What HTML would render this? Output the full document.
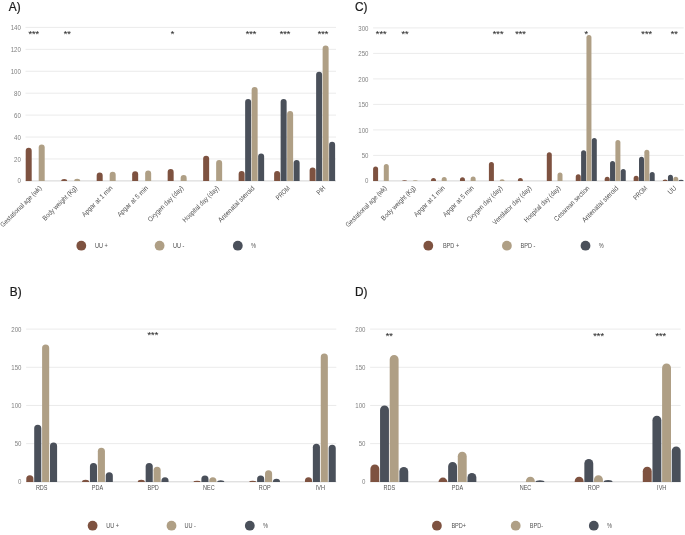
<!DOCTYPE html>
<html><head><meta charset="utf-8"><title>Figure</title>
<style>
html,body{margin:0;padding:0;background:#fff;}
svg{display:block;font-family:"Liberation Sans","DejaVu Sans",sans-serif;}
</style></head>
<body>
<svg width="685" height="535" viewBox="0 0 685 535">
<rect width="685" height="535" fill="#fff"/>
<text transform="translate(8.80 11.10) scale(0.91 1)" font-size="13" fill="#1c1c1c" text-anchor="start" stroke="#1c1c1c" stroke-width="0.25">A)</text>
<rect x="25.5" y="180.40" width="310.50" height="1" fill="#d4d4d4"/>
<text transform="translate(20.90 183.20) scale(0.9 1)" font-size="6.8" fill="#808080" text-anchor="end">0</text>
<rect x="25.5" y="158.47" width="310.50" height="1" fill="#ebebeb"/>
<text transform="translate(20.90 161.72) scale(0.9 1)" font-size="6.8" fill="#808080" text-anchor="end">20</text>
<rect x="25.5" y="136.54" width="310.50" height="1" fill="#ebebeb"/>
<text transform="translate(20.90 139.79) scale(0.9 1)" font-size="6.8" fill="#808080" text-anchor="end">40</text>
<rect x="25.5" y="114.61" width="310.50" height="1" fill="#ebebeb"/>
<text transform="translate(20.90 117.86) scale(0.9 1)" font-size="6.8" fill="#808080" text-anchor="end">60</text>
<rect x="25.5" y="92.69" width="310.50" height="1" fill="#ebebeb"/>
<text transform="translate(20.90 95.94) scale(0.9 1)" font-size="6.8" fill="#808080" text-anchor="end">80</text>
<rect x="25.5" y="70.76" width="310.50" height="1" fill="#ebebeb"/>
<text transform="translate(20.90 74.01) scale(0.9 1)" font-size="6.8" fill="#808080" text-anchor="end">100</text>
<rect x="25.5" y="48.83" width="310.50" height="1" fill="#ebebeb"/>
<text transform="translate(20.90 52.08) scale(0.9 1)" font-size="6.8" fill="#808080" text-anchor="end">120</text>
<rect x="25.5" y="26.90" width="310.50" height="1" fill="#ebebeb"/>
<text transform="translate(20.90 30.15) scale(0.9 1)" font-size="6.8" fill="#808080" text-anchor="end">140</text>
<path d="M25.70 181.10V150.80A3.00 3.00 0 0 1 31.70 150.80V181.10Z" fill="#7e5240"/>
<path d="M38.70 181.10V147.50A3.00 3.00 0 0 1 44.70 147.50V181.10Z" fill="#af9f85"/>
<path d="M61.19 181.10V181.10A3.00 2.20 0 0 1 67.19 181.10V181.10Z" fill="#7e5240"/>
<path d="M74.19 181.10V181.10A3.00 2.40 0 0 1 80.19 181.10V181.10Z" fill="#af9f85"/>
<path d="M96.68 181.10V175.40A3.00 3.00 0 0 1 102.68 175.40V181.10Z" fill="#7e5240"/>
<path d="M109.68 181.10V174.70A3.00 3.00 0 0 1 115.68 174.70V181.10Z" fill="#af9f85"/>
<path d="M132.17 181.10V174.20A3.00 3.00 0 0 1 138.17 174.20V181.10Z" fill="#7e5240"/>
<path d="M145.17 181.10V173.60A3.00 3.00 0 0 1 151.17 173.60V181.10Z" fill="#af9f85"/>
<path d="M167.66 181.10V171.90A3.00 3.00 0 0 1 173.66 171.90V181.10Z" fill="#7e5240"/>
<path d="M180.66 181.10V177.90A3.00 3.00 0 0 1 186.66 177.90V181.10Z" fill="#af9f85"/>
<path d="M203.15 181.10V158.80A3.00 3.00 0 0 1 209.15 158.80V181.10Z" fill="#7e5240"/>
<path d="M216.15 181.10V162.90A3.00 3.00 0 0 1 222.15 162.90V181.10Z" fill="#af9f85"/>
<path d="M238.64 181.10V174.10A3.00 3.00 0 0 1 244.64 174.10V181.10Z" fill="#7e5240"/>
<path d="M245.14 181.10V102.10A3.00 3.00 0 0 1 251.14 102.10V181.10Z" fill="#4a505a"/>
<path d="M251.64 181.10V90.10A3.00 3.00 0 0 1 257.64 90.10V181.10Z" fill="#af9f85"/>
<path d="M258.14 181.10V156.60A3.00 3.00 0 0 1 264.14 156.60V181.10Z" fill="#4a505a"/>
<path d="M274.13 181.10V174.10A3.00 3.00 0 0 1 280.13 174.10V181.10Z" fill="#7e5240"/>
<path d="M280.63 181.10V102.10A3.00 3.00 0 0 1 286.63 102.10V181.10Z" fill="#4a505a"/>
<path d="M287.13 181.10V113.90A3.00 3.00 0 0 1 293.13 113.90V181.10Z" fill="#af9f85"/>
<path d="M293.63 181.10V163.10A3.00 3.00 0 0 1 299.63 163.10V181.10Z" fill="#4a505a"/>
<path d="M309.62 181.10V170.60A3.00 3.00 0 0 1 315.62 170.60V181.10Z" fill="#7e5240"/>
<path d="M316.12 181.10V74.80A3.00 3.00 0 0 1 322.12 74.80V181.10Z" fill="#4a505a"/>
<path d="M322.62 181.10V48.40A3.00 3.00 0 0 1 328.62 48.40V181.10Z" fill="#af9f85"/>
<path d="M329.12 181.10V144.80A3.00 3.00 0 0 1 335.12 144.80V181.10Z" fill="#4a505a"/>
<text transform="translate(42.05 188.60) rotate(-45) scale(0.86 1)" font-size="7" fill="#505050" text-anchor="end">Gestational age (wk)</text>
<text transform="translate(77.54 188.60) rotate(-45) scale(0.86 1)" font-size="7" fill="#505050" text-anchor="end">Body weight (Kg)</text>
<text transform="translate(113.03 188.60) rotate(-45) scale(0.89 1)" font-size="7" fill="#505050" text-anchor="end">Apgar at 1 min</text>
<text transform="translate(148.52 188.60) rotate(-45) scale(0.89 1)" font-size="7" fill="#505050" text-anchor="end">Apgar at 5 min</text>
<text transform="translate(184.01 188.60) rotate(-45) scale(0.86 1)" font-size="7" fill="#505050" text-anchor="end">Oxygen day (day)</text>
<text transform="translate(219.50 188.60) rotate(-45) scale(0.86 1)" font-size="7" fill="#505050" text-anchor="end">Hospital day (day)</text>
<text transform="translate(254.99 188.60) rotate(-45) scale(0.92 1)" font-size="7" fill="#505050" text-anchor="end">Antenatal steroid</text>
<text transform="translate(290.48 188.60) rotate(-45) scale(0.8 1)" font-size="7" fill="#505050" text-anchor="end">PROM</text>
<text transform="translate(325.97 188.60) rotate(-45) scale(0.8 1)" font-size="7" fill="#505050" text-anchor="end">PIH</text>
<text transform="translate(33.80 37.30) scale(1.02 1)" font-size="9" fill="#333" text-anchor="middle" stroke="#333" stroke-width="0.1">***</text>
<text transform="translate(67.30 37.30) scale(1.02 1)" font-size="9" fill="#333" text-anchor="middle" stroke="#333" stroke-width="0.1">**</text>
<text transform="translate(172.60 37.30) scale(1.02 1)" font-size="9" fill="#333" text-anchor="middle" stroke="#333" stroke-width="0.1">*</text>
<text transform="translate(251.00 37.30) scale(1.02 1)" font-size="9" fill="#333" text-anchor="middle" stroke="#333" stroke-width="0.1">***</text>
<text transform="translate(285.00 37.30) scale(1.02 1)" font-size="9" fill="#333" text-anchor="middle" stroke="#333" stroke-width="0.1">***</text>
<text transform="translate(323.00 37.30) scale(1.02 1)" font-size="9" fill="#333" text-anchor="middle" stroke="#333" stroke-width="0.1">***</text>
<circle cx="81.3" cy="245.7" r="4.9" fill="#7e5240"/>
<text transform="translate(94.90 248.10) scale(0.82 1)" font-size="6.8" fill="#505050" text-anchor="start">UU +</text>
<circle cx="159.6" cy="245.7" r="4.9" fill="#af9f85"/>
<text transform="translate(173.00 248.10) scale(0.82 1)" font-size="6.8" fill="#505050" text-anchor="start">UU -</text>
<circle cx="237.8" cy="245.7" r="4.9" fill="#4a505a"/>
<text transform="translate(251.00 248.10) scale(0.82 1)" font-size="6.8" fill="#505050" text-anchor="start">%</text>
<text transform="translate(9.80 296.10) scale(0.91 1)" font-size="13" fill="#1c1c1c" text-anchor="start" stroke="#1c1c1c" stroke-width="0.25">B)</text>
<rect x="26.1" y="481.30" width="310.20" height="1" fill="#d4d4d4"/>
<text transform="translate(21.50 484.10) scale(0.9 1)" font-size="6.8" fill="#808080" text-anchor="end">0</text>
<rect x="26.1" y="443.12" width="310.20" height="1" fill="#ebebeb"/>
<text transform="translate(21.50 446.38) scale(0.9 1)" font-size="6.8" fill="#808080" text-anchor="end">50</text>
<rect x="26.1" y="404.95" width="310.20" height="1" fill="#ebebeb"/>
<text transform="translate(21.50 408.20) scale(0.9 1)" font-size="6.8" fill="#808080" text-anchor="end">100</text>
<rect x="26.1" y="366.78" width="310.20" height="1" fill="#ebebeb"/>
<text transform="translate(21.50 370.03) scale(0.9 1)" font-size="6.8" fill="#808080" text-anchor="end">150</text>
<rect x="26.1" y="328.60" width="310.20" height="1" fill="#ebebeb"/>
<text transform="translate(21.50 331.85) scale(0.9 1)" font-size="6.8" fill="#808080" text-anchor="end">200</text>
<path d="M26.30 482.00V478.85A3.55 3.55 0 0 1 33.40 478.85V482.00Z" fill="#7e5240"/>
<path d="M34.20 482.00V428.35A3.55 3.55 0 0 1 41.30 428.35V482.00Z" fill="#4a505a"/>
<path d="M42.10 482.00V347.95A3.55 3.55 0 0 1 49.20 347.95V482.00Z" fill="#af9f85"/>
<path d="M50.00 482.00V445.95A3.55 3.55 0 0 1 57.10 445.95V482.00Z" fill="#4a505a"/>
<path d="M82.03 482.00V482.00A3.55 2.20 0 0 1 89.13 482.00V482.00Z" fill="#7e5240"/>
<path d="M89.93 482.00V466.55A3.55 3.55 0 0 1 97.03 466.55V482.00Z" fill="#4a505a"/>
<path d="M97.83 482.00V451.25A3.55 3.55 0 0 1 104.93 451.25V482.00Z" fill="#af9f85"/>
<path d="M105.73 482.00V475.85A3.55 3.55 0 0 1 112.83 475.85V482.00Z" fill="#4a505a"/>
<path d="M137.76 482.00V482.00A3.55 2.20 0 0 1 144.86 482.00V482.00Z" fill="#7e5240"/>
<path d="M145.66 482.00V466.55A3.55 3.55 0 0 1 152.76 466.55V482.00Z" fill="#4a505a"/>
<path d="M153.56 482.00V470.35A3.55 3.55 0 0 1 160.66 470.35V482.00Z" fill="#af9f85"/>
<path d="M161.46 482.00V480.85A3.55 3.55 0 0 1 168.56 480.85V482.00Z" fill="#4a505a"/>
<path d="M193.49 482.00V482.00A3.55 1.20 0 0 1 200.59 482.00V482.00Z" fill="#7e5240"/>
<path d="M201.39 482.00V479.05A3.55 3.55 0 0 1 208.49 479.05V482.00Z" fill="#4a505a"/>
<path d="M209.29 482.00V480.85A3.55 3.55 0 0 1 216.39 480.85V482.00Z" fill="#af9f85"/>
<path d="M217.19 482.00V482.00A3.55 1.70 0 0 1 224.29 482.00V482.00Z" fill="#4a505a"/>
<path d="M249.22 482.00V482.00A3.55 1.20 0 0 1 256.32 482.00V482.00Z" fill="#7e5240"/>
<path d="M257.12 482.00V479.05A3.55 3.55 0 0 1 264.22 479.05V482.00Z" fill="#4a505a"/>
<path d="M265.02 482.00V473.85A3.55 3.55 0 0 1 272.12 473.85V482.00Z" fill="#af9f85"/>
<path d="M272.92 482.00V482.00A3.55 3.20 0 0 1 280.02 482.00V482.00Z" fill="#4a505a"/>
<path d="M304.95 482.00V480.85A3.55 3.55 0 0 1 312.05 480.85V482.00Z" fill="#7e5240"/>
<path d="M312.85 482.00V447.25A3.55 3.55 0 0 1 319.95 447.25V482.00Z" fill="#4a505a"/>
<path d="M320.75 482.00V357.15A3.55 3.55 0 0 1 327.85 357.15V482.00Z" fill="#af9f85"/>
<path d="M328.65 482.00V448.25A3.55 3.55 0 0 1 335.75 448.25V482.00Z" fill="#4a505a"/>
<text transform="translate(41.70 489.80) scale(0.8 1)" font-size="6.9" fill="#505050" text-anchor="middle">RDS</text>
<text transform="translate(97.43 489.80) scale(0.8 1)" font-size="6.9" fill="#505050" text-anchor="middle">PDA</text>
<text transform="translate(153.16 489.80) scale(0.8 1)" font-size="6.9" fill="#505050" text-anchor="middle">BPD</text>
<text transform="translate(208.89 489.80) scale(0.8 1)" font-size="6.9" fill="#505050" text-anchor="middle">NEC</text>
<text transform="translate(264.62 489.80) scale(0.8 1)" font-size="6.9" fill="#505050" text-anchor="middle">ROP</text>
<text transform="translate(320.35 489.80) scale(0.8 1)" font-size="6.9" fill="#505050" text-anchor="middle">IVH</text>
<text transform="translate(152.90 337.80) scale(1.02 1)" font-size="9" fill="#333" text-anchor="middle" stroke="#333" stroke-width="0.1">***</text>
<circle cx="92.6" cy="525.7" r="4.9" fill="#7e5240"/>
<text transform="translate(106.20 528.10) scale(0.82 1)" font-size="6.8" fill="#505050" text-anchor="start">UU +</text>
<circle cx="171.5" cy="525.7" r="4.9" fill="#af9f85"/>
<text transform="translate(184.50 528.10) scale(0.82 1)" font-size="6.8" fill="#505050" text-anchor="start">UU -</text>
<circle cx="249.8" cy="525.7" r="4.9" fill="#4a505a"/>
<text transform="translate(262.90 528.10) scale(0.82 1)" font-size="6.8" fill="#505050" text-anchor="start">%</text>
<text transform="translate(355.00 11.10) scale(0.91 1)" font-size="13" fill="#1c1c1c" text-anchor="start" stroke="#1c1c1c" stroke-width="0.25">C)</text>
<rect x="373.1" y="180.40" width="310.60" height="1" fill="#d4d4d4"/>
<text transform="translate(368.50 183.20) scale(0.9 1)" font-size="6.8" fill="#808080" text-anchor="end">0</text>
<rect x="373.1" y="154.90" width="310.60" height="1" fill="#ebebeb"/>
<text transform="translate(368.50 158.15) scale(0.9 1)" font-size="6.8" fill="#808080" text-anchor="end">50</text>
<rect x="373.1" y="129.40" width="310.60" height="1" fill="#ebebeb"/>
<text transform="translate(368.50 132.65) scale(0.9 1)" font-size="6.8" fill="#808080" text-anchor="end">100</text>
<rect x="373.1" y="103.90" width="310.60" height="1" fill="#ebebeb"/>
<text transform="translate(368.50 107.15) scale(0.9 1)" font-size="6.8" fill="#808080" text-anchor="end">150</text>
<rect x="373.1" y="78.40" width="310.60" height="1" fill="#ebebeb"/>
<text transform="translate(368.50 81.65) scale(0.9 1)" font-size="6.8" fill="#808080" text-anchor="end">200</text>
<rect x="373.1" y="52.90" width="310.60" height="1" fill="#ebebeb"/>
<text transform="translate(368.50 56.15) scale(0.9 1)" font-size="6.8" fill="#808080" text-anchor="end">250</text>
<rect x="373.1" y="27.40" width="310.60" height="1" fill="#ebebeb"/>
<text transform="translate(368.50 30.65) scale(0.9 1)" font-size="6.8" fill="#808080" text-anchor="end">300</text>
<path d="M373.10 181.10V169.10A2.50 2.50 0 0 1 378.10 169.10V181.10Z" fill="#7e5240"/>
<path d="M383.80 181.10V166.60A2.50 2.50 0 0 1 388.80 166.60V181.10Z" fill="#af9f85"/>
<path d="M402.05 181.10V181.10A2.50 0.90 0 0 1 407.05 181.10V181.10Z" fill="#7e5240"/>
<path d="M412.75 181.10V181.10A2.50 0.90 0 0 1 417.75 181.10V181.10Z" fill="#af9f85"/>
<path d="M431.00 181.10V180.40A2.50 2.50 0 0 1 436.00 180.40V181.10Z" fill="#7e5240"/>
<path d="M441.70 181.10V179.40A2.50 2.50 0 0 1 446.70 179.40V181.10Z" fill="#af9f85"/>
<path d="M459.95 181.10V179.70A2.50 2.50 0 0 1 464.95 179.70V181.10Z" fill="#7e5240"/>
<path d="M470.65 181.10V178.90A2.50 2.50 0 0 1 475.65 178.90V181.10Z" fill="#af9f85"/>
<path d="M488.90 181.10V164.40A2.50 2.50 0 0 1 493.90 164.40V181.10Z" fill="#7e5240"/>
<path d="M499.60 181.10V181.10A2.50 1.90 0 0 1 504.60 181.10V181.10Z" fill="#af9f85"/>
<path d="M517.85 181.10V180.40A2.50 2.50 0 0 1 522.85 180.40V181.10Z" fill="#7e5240"/>
<path d="M546.80 181.10V154.80A2.50 2.50 0 0 1 551.80 154.80V181.10Z" fill="#7e5240"/>
<path d="M557.50 181.10V174.90A2.50 2.50 0 0 1 562.50 174.90V181.10Z" fill="#af9f85"/>
<path d="M575.75 181.10V176.70A2.50 2.50 0 0 1 580.75 176.70V181.10Z" fill="#7e5240"/>
<path d="M581.10 181.10V152.80A2.50 2.50 0 0 1 586.10 152.80V181.10Z" fill="#4a505a"/>
<path d="M586.45 181.10V37.60A2.50 2.50 0 0 1 591.45 37.60V181.10Z" fill="#af9f85"/>
<path d="M591.80 181.10V140.50A2.50 2.50 0 0 1 596.80 140.50V181.10Z" fill="#4a505a"/>
<path d="M604.70 181.10V179.20A2.50 2.50 0 0 1 609.70 179.20V181.10Z" fill="#7e5240"/>
<path d="M610.05 181.10V163.60A2.50 2.50 0 0 1 615.05 163.60V181.10Z" fill="#4a505a"/>
<path d="M615.40 181.10V142.50A2.50 2.50 0 0 1 620.40 142.50V181.10Z" fill="#af9f85"/>
<path d="M620.75 181.10V171.60A2.50 2.50 0 0 1 625.75 171.60V181.10Z" fill="#4a505a"/>
<path d="M633.65 181.10V178.20A2.50 2.50 0 0 1 638.65 178.20V181.10Z" fill="#7e5240"/>
<path d="M639.00 181.10V159.30A2.50 2.50 0 0 1 644.00 159.30V181.10Z" fill="#4a505a"/>
<path d="M644.35 181.10V152.30A2.50 2.50 0 0 1 649.35 152.30V181.10Z" fill="#af9f85"/>
<path d="M649.70 181.10V174.40A2.50 2.50 0 0 1 654.70 174.40V181.10Z" fill="#4a505a"/>
<path d="M662.60 181.10V181.10A2.50 1.70 0 0 1 667.60 181.10V181.10Z" fill="#7e5240"/>
<path d="M667.95 181.10V177.20A2.50 2.50 0 0 1 672.95 177.20V181.10Z" fill="#4a505a"/>
<path d="M673.30 181.10V179.20A2.50 2.50 0 0 1 678.30 179.20V181.10Z" fill="#af9f85"/>
<path d="M678.65 181.10V181.10A2.50 1.40 0 0 1 683.65 181.10V181.10Z" fill="#4a505a"/>
<text transform="translate(387.23 188.60) rotate(-45) scale(0.86 1)" font-size="7" fill="#505050" text-anchor="end">Gestational age (wk)</text>
<text transform="translate(416.18 188.60) rotate(-45) scale(0.86 1)" font-size="7" fill="#505050" text-anchor="end">Body weight (Kg)</text>
<text transform="translate(445.12 188.60) rotate(-45) scale(0.89 1)" font-size="7" fill="#505050" text-anchor="end">Apgar at 1 min</text>
<text transform="translate(474.08 188.60) rotate(-45) scale(0.89 1)" font-size="7" fill="#505050" text-anchor="end">Apgar at 5 min</text>
<text transform="translate(503.03 188.60) rotate(-45) scale(0.86 1)" font-size="7" fill="#505050" text-anchor="end">Oxygen day (day)</text>
<text transform="translate(531.98 188.60) rotate(-45) scale(0.86 1)" font-size="7" fill="#505050" text-anchor="end">Ventilator day (day)</text>
<text transform="translate(560.92 188.60) rotate(-45) scale(0.86 1)" font-size="7" fill="#505050" text-anchor="end">Hospital day (day)</text>
<text transform="translate(589.88 188.60) rotate(-45) scale(0.86 1)" font-size="7" fill="#505050" text-anchor="end">Cesarean section</text>
<text transform="translate(618.83 188.60) rotate(-45) scale(0.92 1)" font-size="7" fill="#505050" text-anchor="end">Antenatal steroid</text>
<text transform="translate(647.78 188.60) rotate(-45) scale(0.8 1)" font-size="7" fill="#505050" text-anchor="end">PROM</text>
<text transform="translate(676.73 188.60) rotate(-45) scale(0.86 1)" font-size="7" fill="#505050" text-anchor="end">UU</text>
<text transform="translate(381.20 37.30) scale(1.02 1)" font-size="9" fill="#333" text-anchor="middle" stroke="#333" stroke-width="0.1">***</text>
<text transform="translate(405.00 37.30) scale(1.02 1)" font-size="9" fill="#333" text-anchor="middle" stroke="#333" stroke-width="0.1">**</text>
<text transform="translate(498.10 37.30) scale(1.02 1)" font-size="9" fill="#333" text-anchor="middle" stroke="#333" stroke-width="0.1">***</text>
<text transform="translate(520.50 37.30) scale(1.02 1)" font-size="9" fill="#333" text-anchor="middle" stroke="#333" stroke-width="0.1">***</text>
<text transform="translate(586.20 37.30) scale(1.02 1)" font-size="9" fill="#333" text-anchor="middle" stroke="#333" stroke-width="0.1">*</text>
<text transform="translate(646.70 37.30) scale(1.02 1)" font-size="9" fill="#333" text-anchor="middle" stroke="#333" stroke-width="0.1">***</text>
<text transform="translate(674.30 37.30) scale(1.02 1)" font-size="9" fill="#333" text-anchor="middle" stroke="#333" stroke-width="0.1">**</text>
<circle cx="428.3" cy="245.7" r="4.9" fill="#7e5240"/>
<text transform="translate(442.90 248.10) scale(0.82 1)" font-size="6.8" fill="#505050" text-anchor="start">BPD +</text>
<circle cx="506.9" cy="245.7" r="4.9" fill="#af9f85"/>
<text transform="translate(520.50 248.10) scale(0.82 1)" font-size="6.8" fill="#505050" text-anchor="start">BPD -</text>
<circle cx="585.5" cy="245.7" r="4.9" fill="#4a505a"/>
<text transform="translate(598.80 248.10) scale(0.82 1)" font-size="6.8" fill="#505050" text-anchor="start">%</text>
<text transform="translate(355.00 296.10) scale(0.91 1)" font-size="13" fill="#1c1c1c" text-anchor="start" stroke="#1c1c1c" stroke-width="0.25">D)</text>
<rect x="370.1" y="481.30" width="310.60" height="1" fill="#d4d4d4"/>
<text transform="translate(365.50 484.10) scale(0.9 1)" font-size="6.8" fill="#808080" text-anchor="end">0</text>
<rect x="370.1" y="443.12" width="310.60" height="1" fill="#ebebeb"/>
<text transform="translate(365.50 446.38) scale(0.9 1)" font-size="6.8" fill="#808080" text-anchor="end">50</text>
<rect x="370.1" y="404.95" width="310.60" height="1" fill="#ebebeb"/>
<text transform="translate(365.50 408.20) scale(0.9 1)" font-size="6.8" fill="#808080" text-anchor="end">100</text>
<rect x="370.1" y="366.78" width="310.60" height="1" fill="#ebebeb"/>
<text transform="translate(365.50 370.03) scale(0.9 1)" font-size="6.8" fill="#808080" text-anchor="end">150</text>
<rect x="370.1" y="328.60" width="310.60" height="1" fill="#ebebeb"/>
<text transform="translate(365.50 331.85) scale(0.9 1)" font-size="6.8" fill="#808080" text-anchor="end">200</text>
<path d="M370.40 482.00V468.95A4.45 4.45 0 0 1 379.30 468.95V482.00Z" fill="#7e5240"/>
<path d="M380.05 482.00V409.95A4.45 4.45 0 0 1 388.95 409.95V482.00Z" fill="#4a505a"/>
<path d="M389.70 482.00V359.45A4.45 4.45 0 0 1 398.60 359.45V482.00Z" fill="#af9f85"/>
<path d="M399.35 482.00V471.45A4.45 4.45 0 0 1 408.25 471.45V482.00Z" fill="#4a505a"/>
<path d="M438.50 482.00V482.00A4.45 4.40 0 0 1 447.40 482.00V482.00Z" fill="#7e5240"/>
<path d="M448.15 482.00V466.45A4.45 4.45 0 0 1 457.05 466.45V482.00Z" fill="#4a505a"/>
<path d="M457.80 482.00V456.15A4.45 4.45 0 0 1 466.70 456.15V482.00Z" fill="#af9f85"/>
<path d="M467.45 482.00V477.45A4.45 4.45 0 0 1 476.35 477.45V482.00Z" fill="#4a505a"/>
<path d="M525.90 482.00V481.25A4.45 4.45 0 0 1 534.80 481.25V482.00Z" fill="#af9f85"/>
<path d="M535.55 482.00V482.00A4.45 1.70 0 0 1 544.45 482.00V482.00Z" fill="#4a505a"/>
<path d="M574.70 482.00V481.25A4.45 4.45 0 0 1 583.60 481.25V482.00Z" fill="#7e5240"/>
<path d="M584.35 482.00V463.45A4.45 4.45 0 0 1 593.25 463.45V482.00Z" fill="#4a505a"/>
<path d="M594.00 482.00V479.75A4.45 4.45 0 0 1 602.90 479.75V482.00Z" fill="#af9f85"/>
<path d="M603.65 482.00V482.00A4.45 2.00 0 0 1 612.55 482.00V482.00Z" fill="#4a505a"/>
<path d="M642.80 482.00V471.25A4.45 4.45 0 0 1 651.70 471.25V482.00Z" fill="#7e5240"/>
<path d="M652.45 482.00V420.25A4.45 4.45 0 0 1 661.35 420.25V482.00Z" fill="#4a505a"/>
<path d="M662.10 482.00V367.95A4.45 4.45 0 0 1 671.00 367.95V482.00Z" fill="#af9f85"/>
<path d="M671.75 482.00V450.85A4.45 4.45 0 0 1 680.65 450.85V482.00Z" fill="#4a505a"/>
<text transform="translate(389.32 489.80) scale(0.8 1)" font-size="6.9" fill="#505050" text-anchor="middle">RDS</text>
<text transform="translate(457.43 489.80) scale(0.8 1)" font-size="6.9" fill="#505050" text-anchor="middle">PDA</text>
<text transform="translate(525.52 489.80) scale(0.8 1)" font-size="6.9" fill="#505050" text-anchor="middle">NEC</text>
<text transform="translate(593.62 489.80) scale(0.8 1)" font-size="6.9" fill="#505050" text-anchor="middle">ROP</text>
<text transform="translate(661.72 489.80) scale(0.8 1)" font-size="6.9" fill="#505050" text-anchor="middle">IVH</text>
<text transform="translate(389.20 339.30) scale(1.02 1)" font-size="9" fill="#333" text-anchor="middle" stroke="#333" stroke-width="0.1">**</text>
<text transform="translate(598.60 339.30) scale(1.02 1)" font-size="9" fill="#333" text-anchor="middle" stroke="#333" stroke-width="0.1">***</text>
<text transform="translate(660.80 339.30) scale(1.02 1)" font-size="9" fill="#333" text-anchor="middle" stroke="#333" stroke-width="0.1">***</text>
<circle cx="436.9" cy="525.7" r="4.9" fill="#7e5240"/>
<text transform="translate(451.40 528.10) scale(0.82 1)" font-size="6.8" fill="#505050" text-anchor="start">BPD+</text>
<circle cx="515.7" cy="525.7" r="4.9" fill="#af9f85"/>
<text transform="translate(529.80 528.10) scale(0.82 1)" font-size="6.8" fill="#505050" text-anchor="start">BPD-</text>
<circle cx="593.8" cy="525.7" r="4.9" fill="#4a505a"/>
<text transform="translate(607.10 528.10) scale(0.82 1)" font-size="6.8" fill="#505050" text-anchor="start">%</text>
</svg>
</body></html>
